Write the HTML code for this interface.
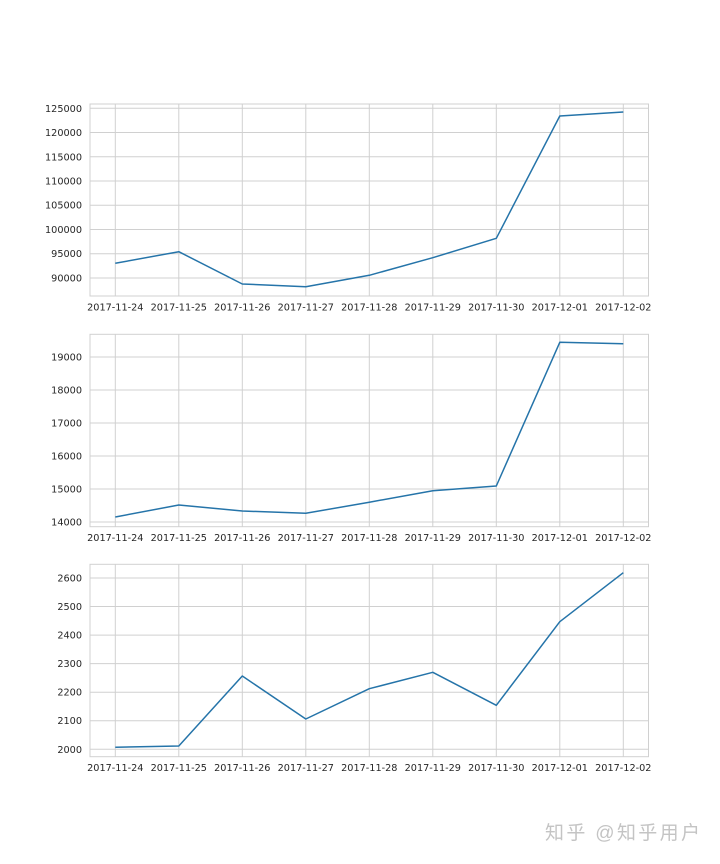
<!DOCTYPE html>
<html><head><meta charset="utf-8"><style>
html,body{margin:0;padding:0;background:#fff;}
svg{display:block;}
text{font-family:"DejaVu Sans","Liberation Sans",sans-serif;font-size:9.7px;fill:#262626;}
.wm{font-family:"Liberation Sans","Noto Sans CJK SC",sans-serif;font-size:19px;fill:#c4c4c4;}
</style></head><body>
<svg width="720" height="864" viewBox="0 0 720 864" xmlns="http://www.w3.org/2000/svg">
<rect width="720" height="864" fill="#fff"/>
<g stroke="#d0d0d0" stroke-width="1" fill="none">
<!-- panel 1 grid -->
<path d="M115.3 104V296M178.8 104V296M242.3 104V296M305.8 104V296M369.3 104V296M432.8 104V296M496.3 104V296M559.8 104V296M623.3 104V296"/>
<path d="M90 108.3H648.5M90 132.5H648.5M90 156.8H648.5M90 181H648.5M90 205.2H648.5M90 229.5H648.5M90 253.7H648.5M90 278H648.5"/>
<rect x="90" y="104" width="558.5" height="192"/>
<!-- panel 2 grid -->
<path d="M115.3 334.3V526.7M178.8 334.3V526.7M242.3 334.3V526.7M305.8 334.3V526.7M369.3 334.3V526.7M432.8 334.3V526.7M496.3 334.3V526.7M559.8 334.3V526.7M623.3 334.3V526.7"/>
<path d="M90 357H648.5M90 390H648.5M90 423H648.5M90 456H648.5M90 489H648.5M90 522H648.5"/>
<rect x="90" y="334.3" width="558.5" height="192.4"/>
<!-- panel 3 grid -->
<path d="M115.3 564.3V756.7M178.8 564.3V756.7M242.3 564.3V756.7M305.8 564.3V756.7M369.3 564.3V756.7M432.8 564.3V756.7M496.3 564.3V756.7M559.8 564.3V756.7M623.3 564.3V756.7"/>
<path d="M90 578H648.5M90 606.55H648.5M90 635.1H648.5M90 663.65H648.5M90 692.2H648.5M90 720.75H648.5M90 749.3H648.5"/>
<rect x="90" y="564.3" width="558.5" height="192.4"/>
</g>
<g stroke="#2574a9" stroke-width="1.5" fill="none" stroke-linejoin="round">
<polyline points="115.3,263.3 178.8,251.7 242.3,284 305.8,286.7 369.3,275.3 432.8,257.7 496.3,238.3 559.8,116 623.3,112"/>
<polyline points="115.3,517 178.8,505 242.3,511 305.8,513.3 369.3,502.2 432.8,490.8 496.3,486 559.8,342.3 623.3,343.7"/>
<polyline points="115.3,747.3 178.8,746 242.3,676 305.8,719 369.3,688.7 432.8,672.3 496.3,705.3 559.8,621.7 623.3,572.7"/>
</g>
<g text-anchor="end">
<text x="82" y="111.8">125000</text><text x="82" y="136">120000</text><text x="82" y="160.3">115000</text><text x="82" y="184.5">110000</text><text x="82" y="208.7">105000</text><text x="82" y="233">100000</text><text x="82" y="257.2">95000</text><text x="82" y="281.5">90000</text>
<text x="82" y="360.5">19000</text><text x="82" y="393.5">18000</text><text x="82" y="426.5">17000</text><text x="82" y="459.5">16000</text><text x="82" y="492.5">15000</text><text x="82" y="525.5">14000</text>
<text x="82" y="581.5">2600</text><text x="82" y="610">2500</text><text x="82" y="638.6">2400</text><text x="82" y="667.1">2300</text><text x="82" y="695.7">2200</text><text x="82" y="724.2">2100</text><text x="82" y="752.8">2000</text>
</g>
<g text-anchor="middle">
<text x="115.3" y="310.5">2017-11-24</text><text x="178.8" y="310.5">2017-11-25</text><text x="242.3" y="310.5">2017-11-26</text><text x="305.8" y="310.5">2017-11-27</text><text x="369.3" y="310.5">2017-11-28</text><text x="432.8" y="310.5">2017-11-29</text><text x="496.3" y="310.5">2017-11-30</text><text x="559.8" y="310.5">2017-12-01</text><text x="623.3" y="310.5">2017-12-02</text>
<text x="115.3" y="541">2017-11-24</text><text x="178.8" y="541">2017-11-25</text><text x="242.3" y="541">2017-11-26</text><text x="305.8" y="541">2017-11-27</text><text x="369.3" y="541">2017-11-28</text><text x="432.8" y="541">2017-11-29</text><text x="496.3" y="541">2017-11-30</text><text x="559.8" y="541">2017-12-01</text><text x="623.3" y="541">2017-12-02</text>
<text x="115.3" y="771">2017-11-24</text><text x="178.8" y="771">2017-11-25</text><text x="242.3" y="771">2017-11-26</text><text x="305.8" y="771">2017-11-27</text><text x="369.3" y="771">2017-11-28</text><text x="432.8" y="771">2017-11-29</text><text x="496.3" y="771">2017-11-30</text><text x="559.8" y="771">2017-12-01</text><text x="623.3" y="771">2017-12-02</text>
</g>
<text class="wm" x="545" y="839" textLength="155" lengthAdjust="spacing">知乎 @知乎用户</text>
</svg>
</body></html>
